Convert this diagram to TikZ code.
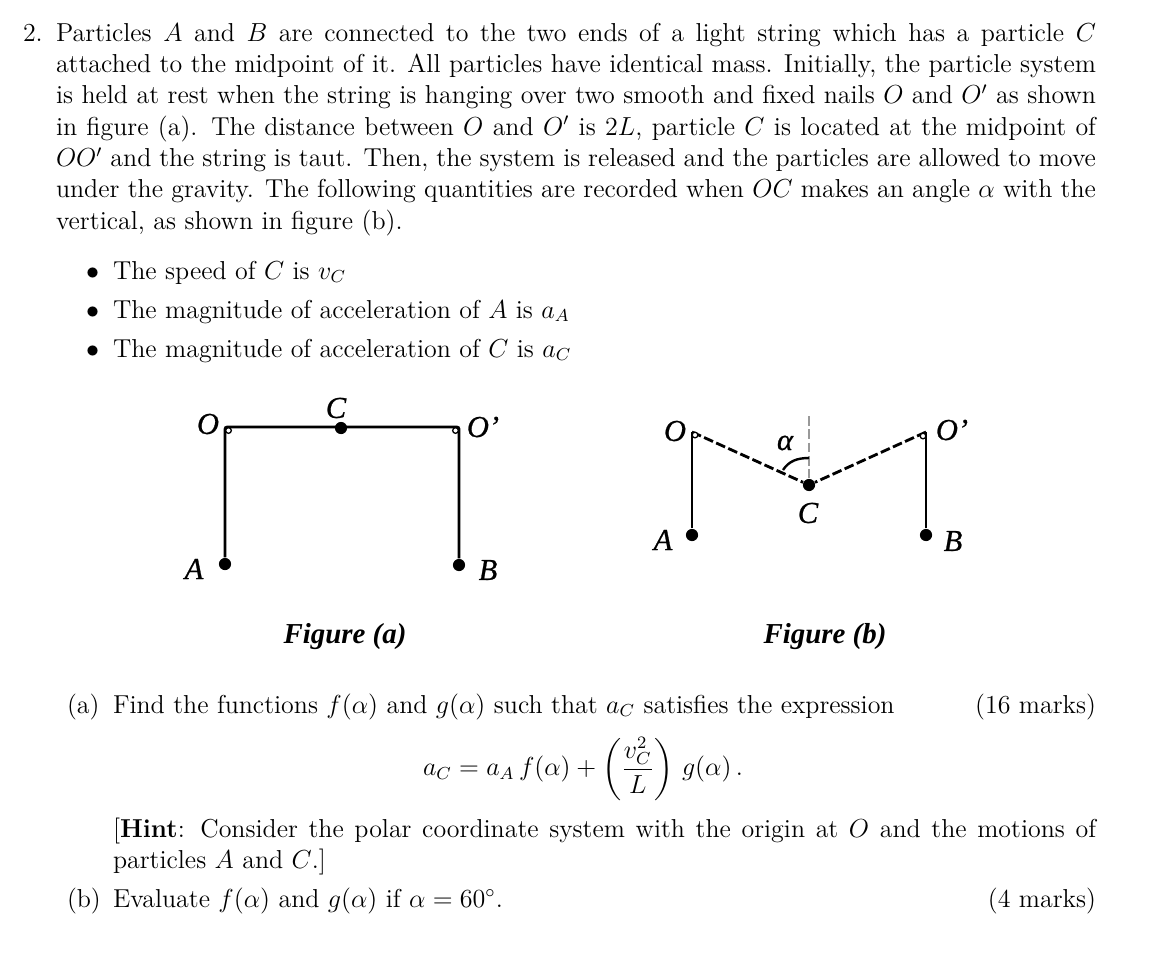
\documentclass[tikz,border=0pt]{standalone}
\usepackage[no-math]{fontspec}
\usepackage{amssymb,amsmath}
\usepackage{xcolor}
\newfontfamily\figfont{Liberation Serif}
\newfontfamily\lblfont[ItalicFeatures={FakeBold=0.8}]{Liberation Serif}
\usetikzlibrary{positioning}
\tikzset{
  txt/.style={inner sep=0pt,outer sep=0pt,font=\fontsize{11.93}{14.41}\selectfont},
  para/.style={txt,anchor=north west,text width=#1,align=justify},
  line/.style={txt,anchor=base west},
  lineright/.style={txt,anchor=base east},
  lbl/.style={inner sep=0pt,font=\lblfont\fontsize{14}{16}\selectfont\itshape},
  figcap/.style={inner sep=0pt,font=\figfont\fontsize{13.3}{15}\selectfont\bfseries\itshape},
  mass/.style={circle,fill=black,draw=none,minimum size=5.6pt,inner sep=0pt},
  nail/.style={circle,fill=white,draw=black,line width=0.6pt,minimum size=2.6pt,inner sep=0pt},
  string/.style={line width=1.3pt,rounded corners=1pt},
  slack/.style={line width=1.3pt,dash pattern=on 4.5pt off 1.6pt}
}
\begin{document}
\begin{tikzpicture}[x=0.46pt,y=-0.46pt]
\useasboundingbox (0,0) rectangle (1166,954);
\node[line] (num) at (23,41) {2.};
\node[para=478.4pt] (prob) at (56,23) {Particles $A$ and $B$ are connected to the two ends of a light string which has a particle $C$\linebreak
attached to the midpoint of it. All particles have identical mass. Initially, the particle system\linebreak
is held at rest when the string is hanging over two smooth and fixed nails $O$ and $O'$ as shown\linebreak
in figure (a). The distance between $O$ and $O'$ is $2L$, particle $C$ is located at the midpoint of\linebreak
$OO'$ and the string is taut. Then, the system is released and the particles are allowed to move\linebreak
under the gravity. The following quantities are recorded when $OC$ makes an angle $\alpha$ with the\linebreak
vertical, as shown in figure (b).};
\node[line] (b1) at (86,279) {$\bullet$};
\node[line] (i1) at (113,279) {The speed of $C$ is $v_C$};
\node[line] (b2) at (86,318) {$\bullet$};
\node[line] (i2) at (113,318) {The magnitude of acceleration of $A$ is $a_A$};
\node[line] (b3) at (86,357) {$\bullet$};
\node[line] (i3) at (113,357) {The magnitude of acceleration of $C$ is $a_C$};
% figure (a)
\coordinate (Oa) at (225,427);
\coordinate (Pa) at (459,427);
\node[mass] (Aa) at (225,564) {};
\node[mass] (Ba) at (459,565) {};
\node[mass] (Ca) at (341,428) {};
\draw[string] (Aa) -- (Oa) -- (Pa) -- (Ba);
\node[nail] (na) at (228.5,430.5) {};
\node[nail] (ma) at (455.5,430.5) {};
\node[lbl] (lOa) at (208,424) {O};
\node[lbl] (lPa) at (483,427) {O’};
\node[lbl] (lCa) at (336,408) {C};
\node[lbl] (lAa) at (194,569) {A};
\node[lbl] (lBa) at (488,570) {B};
\node[figcap] (figa) at (345,637) {Figure (a)};
% figure (b)
\coordinate (Ob) at (692,432);
\coordinate (Pb) at (926,432);
\coordinate (top) at (809,416);
\coordinate (arcs) at (783,470);
\coordinate (arce) at (809,458);
\node[mass] (Ab) at (692,535) {};
\node[mass] (Bb) at (926,535) {};
\node[mass] (Cb) at (809,485) {};
\draw[slack,gray!80] (top) -- (Cb);
\draw[slack] (Ob) -- (Cb);
\draw[slack] (Pb) -- (Cb);
\draw[string] (Ab) -- (Ob);
\draw[string] (Bb) -- (Pb);
\draw[line width=1.1pt] (arcs) .. controls (789,461) and (797,458) .. (arce);
\node[nail] (nb) at (695,435) {};
\node[nail] (mb) at (923,436) {};
\node[lbl] (lOb) at (675,431) {O};
\node[lbl] (lPb) at (952,430) {O’};
\node[lbl] (lCb) at (808,513) {C};
\node[lbl] (lAb) at (663,540) {A};
\node[lbl] (lBb) at (953,541) {B};
\node[lbl] (lalpha) at (785,443) {α};
\node[figcap] (figb) at (825,637) {Figure (b)};
% parts
\node[line] (pa) at (67,713) {(a)};
\node[line] (qa) at (113,713) {Find the functions $f(\alpha)$ and $g(\alpha)$ such that $a_C$ satisfies the expression};
\node[lineright] (ra) at (1096,713) {(16 marks)};
\node[txt] (eqn) at (583,769) {$\displaystyle a_C = a_A\, f(\alpha) + \left(\frac{v_C^2}{L}\right)\, g(\alpha)\,.$};
\node[para=452.2pt] (hint) at (113,818) {[\textbf{Hint}: Consider the polar coordinate system with the origin at $O$ and the motions of\linebreak
particles $A$ and $C$.]};
\node[line] (pb) at (67,907) {(b)};
\node[line] (qb) at (113,907) {Evaluate $f(\alpha)$ and $g(\alpha)$ if $\alpha=60^\circ$.};
\node[lineright] (rb) at (1096,907) {(4 marks)};
\end{tikzpicture}
\end{document}
